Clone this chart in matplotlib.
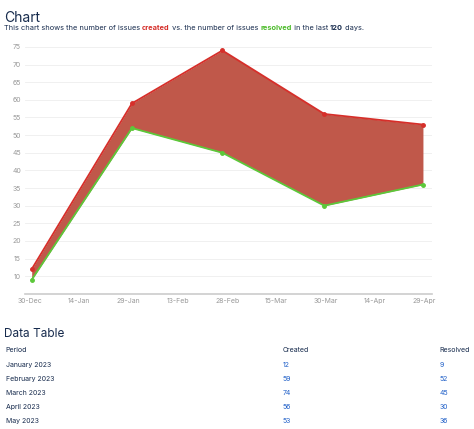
import matplotlib
matplotlib.use("Agg")
import matplotlib.pyplot as plt
import numpy as np

periods = ["January 2023", "February 2023", "March 2023", "April 2023", "May 2023"]
day_offsets = [2, 33, 61, 92, 122]  # days since 30-Dec
created = [12, 59, 74, 56, 53]
resolved = [9, 52, 45, 30, 36]
tick_days = [0, 15, 30, 45, 60, 75, 90, 105, 120]
tick_labels = ["30-Dec", "14-Jan", "29-Jan", "13-Feb", "28-Feb", "15-Mar", "30-Mar", "14-Apr", "29-Apr"]
# adjust for visual placement of points
point_days = [0.5, 31, 58.5, 89.5, 119.5]

plt.rcParams['font.family'] = ['Inter', 'DejaVu Sans']
fig = plt.figure(figsize=(4.74, 4.29), dpi=100)
ax = fig.add_axes([0.053, 0.315, 0.858, 0.592])
ax.fill_between(point_days, created, resolved, color="#c0584a", lw=0)
ax.plot(point_days, created, color="#d62f2a", lw=1.3, marker="o", ms=2.5)
ax.plot(point_days, resolved, color="#5cc83a", lw=1.3, marker="o", ms=2.5)
ax.set_xlim(-1.5, 122.2)
ax.set_ylim(5, 77)
ax.set_yticks(range(10, 80, 5))
ax.set_xticks(tick_days)
ax.set_xticklabels(tick_labels)
ax.tick_params(labelsize=5, colors="#999999", length=0, pad=3)
ax.grid(axis="y", color="#eeeeee", lw=0.6)
ax.set_axisbelow(True)
for s in ["top", "right", "left"]:
    ax.spines[s].set_visible(False)
ax.spines["bottom"].set_color("#cccccc")
ax.spines["bottom"].set_linewidth(1.2)

fig.text(0.008, 0.975, "Chart", fontsize=10, color="#172b4d", va="top")
# subtitle pieces
parts = [("This chart shows the number of issues ", "#172b4d", "normal"),
         ("created", "#d62f2a", "bold"),
         (" vs. the number of issues ", "#172b4d", "normal"),
         ("resolved", "#4cbb2a", "bold"),
         (" in the last ", "#172b4d", "normal"),
         ("120", "#172b4d", "bold"),
         (" days.", "#172b4d", "normal")]
fig.canvas.draw()
r = fig.canvas.get_renderer()
x = 0.008
for t, c, w in parts:
    tx = fig.text(x, 0.942, t, fontsize=5.3, color=c, weight=w, va="top")
    bb = tx.get_window_extent(renderer=r)
    x += bb.width / fig.bbox.width

fig.text(0.008, 0.222, "Data Table", fontsize=8.5, color="#172b4d", va="center")
rows_y = [0.183, 0.150, 0.117, 0.084, 0.051, 0.018]
fig.text(0.012, rows_y[0], "Period", fontsize=5, color="#172b4d", va="center")
fig.text(0.597, rows_y[0], "Created", fontsize=5, color="#172b4d", va="center")
fig.text(0.927, rows_y[0], "Resolved", fontsize=5, color="#172b4d", va="center")
for i, p in enumerate(periods):
    y = rows_y[i + 1]
    fig.text(0.012, y, p, fontsize=5, color="#172b4d", va="center")
    fig.text(0.597, y, str(created[i]), fontsize=5, color="#1f5fc8", va="center")
    fig.text(0.927, y, str(resolved[i]), fontsize=5, color="#1f5fc8", va="center")

fig.savefig("out.png", dpi=100)
